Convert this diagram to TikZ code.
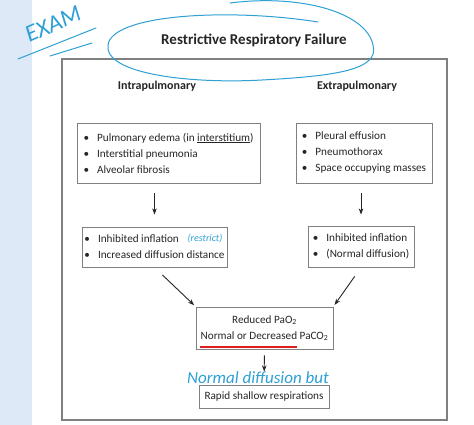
\documentclass[tikz,border=0pt]{standalone}
\usepackage{fontspec}
\setmainfont{Carlito}
\usetikzlibrary{arrows.meta}
\definecolor{pageblue}{RGB}{221,233,246}
\definecolor{framegray}{RGB}{128,128,128}
\definecolor{inkblue}{RGB}{46,160,212}
\definecolor{textgray}{RGB}{38,38,38}
\definecolor{penred}{RGB}{220,30,30}
\newcommand{\bul}{\textbullet\hspace{8pt}}

\begin{document}
\begin{tikzpicture}[x=1pt,y=-1pt,line width=0.9pt,>={Stealth[length=2.2mm,width=1.6mm]},
  box/.style={draw=framegray,line width=0.8pt,text=textgray,align=left,font=\fontsize{11.2}{16}\selectfont,inner sep=0pt},
  head/.style={text=textgray,font=\bfseries\fontsize{12}{14}\selectfont},
  arr/.style={->,textgray},
  ink/.style={inkblue,line width=1pt,line cap=round},
  scrawl/.style={inkblue,font=\itshape\fontsize{#1}{#1}\selectfont}]
  \useasboundingbox (0,0) rectangle (474,425);
  \fill[white] (0,0) rectangle (474,425);
  \fill[pageblue] (0,0) rectangle (32,425);
  \draw[framegray,line width=1.1pt] (62,59) rectangle (447,420);
  % title and the two sides
  \node[text=textgray,font=\bfseries\fontsize{15}{17}\selectfont] (title) at (254,40) {Restrictive Respiratory Failure};
  \node[head] (intra) at (157,86) {Intrapulmonary};
  \node[head] (extra) at (357,86) {Extrapulmonary};
  % causes
  \node[box,minimum width=183pt,minimum height=60pt] (lcause) at (168.5,153)
    {\bul Pulmonary edema (in \underline{interstitium})\\ \bul Interstitial pneumonia\\ \bul Alveolar fibrosis};
  \node[box,minimum width=136pt,minimum height=60pt] (rcause) at (364,153)
    {\bul Pleural effusion\\ \bul Pneumothorax\\ \bul Space occupying masses};
  % effects
  \node[box,minimum width=145pt,minimum height=40pt] (leffect) at (154.5,247)
    {\bul Inhibited inflation\\ \bul Increased diffusion distance};
  \node[box,minimum width=106pt,minimum height=41pt] (reffect) at (361,246.5)
    {\bul Inhibited inflation\\ \bul (Normal diffusion)};
  % result
  \node[box,align=center,minimum width=137pt,minimum height=42pt] (gas) at (264.5,328)
    {Reduced PaO\textsubscript{2}\\ Normal or Decreased PaCO\textsubscript{2}};
  \node[box,align=center,minimum width=130pt,minimum height=23pt] (rapid) at (264,396.5)
    {Rapid shallow respirations};
  \draw[arr,shorten <=10pt,shorten >=12pt] (lcause.south -| leffect.north) -- (leffect.north);
  \draw[arr,shorten <=10pt,shorten >=11pt] (rcause.south -| reffect.north) -- (reffect.north);
  \draw[arr,shorten <=11pt,shorten >=2pt] (leffect.south) -- (gas.north west);
  \draw[arr,shorten <=11pt,shorten >=2pt] (reffect.south) -- (gas.north east);
  \draw[arr,shorten <=6pt,shorten >=13pt] (gas.south) -- (rapid.north);
  % pen marks
  \draw[penred,line width=1.3pt] (200,347) -- (297,347);
  \draw[ink] (318,22) .. controls (230,8) and (112,14) .. (108,45)
    .. controls (104,74) and (190,84) .. (262,80)
    .. controls (335,76) and (380,70) .. (373,45)
    .. controls (366,12) and (300,-6) .. (230,3);
  \node[scrawl=24,rotate=24,inner sep=0pt] (exam) at (53,24) {EXAM};
  \draw[ink] (18,59) -- (96,28);
  \draw[ink] (50,56) -- (92,43);
  \node[scrawl=10,inner sep=1pt] (restrict) at (205,239) {(restrict)};
  \node[scrawl=17] (normal) at (258,378) {Normal diffusion but};
\end{tikzpicture}
\end{document}
